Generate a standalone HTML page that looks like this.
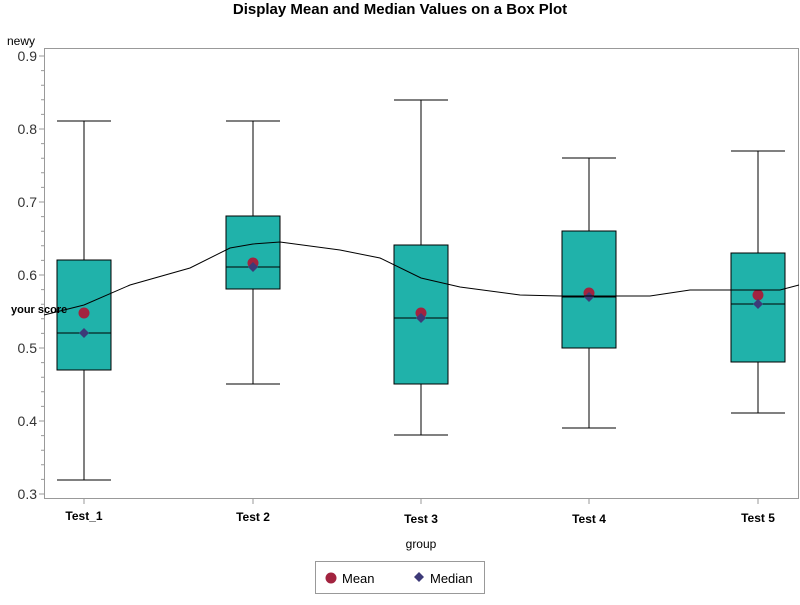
<!DOCTYPE html>
<html><head><meta charset="utf-8"><style>body{margin:0;background:#fff}</style></head><body>
<svg width="800" height="600" xmlns="http://www.w3.org/2000/svg" font-family="Liberation Sans, sans-serif">
<rect width="800" height="600" fill="#fff"/>
<text x="400" y="14" text-anchor="middle" font-size="15" font-weight="bold">Display Mean and Median Values on a Box Plot</text>
<text x="7" y="45" font-size="12">newy</text>
<rect x="44.5" y="48.5" width="754" height="450" fill="none" stroke="#999"/>
<g stroke="#999">
<line x1="39" y1="56" x2="44" y2="56"/><line x1="39" y1="129" x2="44" y2="129"/><line x1="39" y1="202" x2="44" y2="202"/><line x1="39" y1="275" x2="44" y2="275"/><line x1="39" y1="348" x2="44" y2="348"/><line x1="39" y1="421" x2="44" y2="421"/><line x1="39" y1="494" x2="44" y2="494"/>
<path d="M41 70.6H44M41 85.2H44M41 99.8H44M41 114.4H44M41 143.6H44M41 158.2H44M41 172.8H44M41 187.4H44M41 216.6H44M41 231.2H44M41 245.8H44M41 260.4H44M41 289.6H44M41 304.2H44M41 318.8H44M41 333.4H44M41 362.6H44M41 377.2H44M41 391.8H44M41 406.4H44M41 435.6H44M41 450.2H44M41 464.8H44M41 479.4H44"/>
<path d="M84 499v5M253 499v5M421 499v5M589 499v5M758 499v5"/>
</g>
<g font-size="14" fill="#333" text-anchor="end">
<text x="37" y="61">0.9</text><text x="37" y="134">0.8</text><text x="37" y="207">0.7</text><text x="37" y="280">0.6</text><text x="37" y="353">0.5</text><text x="37" y="426">0.4</text><text x="37" y="499">0.3</text>
</g>
<g stroke="#000" stroke-width="1">
<path d="M57 121H111M84 121V260M84 370V480M57 480H111"/><rect x="57" y="260" width="54" height="110" fill="#20B2AA"/><line x1="57" y1="333" x2="111" y2="333"/>
<path d="M226 121H280M253 121V216M253 289V384M226 384H280"/><rect x="226" y="216" width="54" height="73" fill="#20B2AA"/><line x1="226" y1="267" x2="280" y2="267"/>
<path d="M394 100H448M421 100V245M421 384V435M394 435H448"/><rect x="394" y="245" width="54" height="139" fill="#20B2AA"/><line x1="394" y1="318" x2="448" y2="318"/>
<path d="M562 158H616M589 158V231M589 348V428M562 428H616"/><rect x="562" y="231" width="54" height="117" fill="#20B2AA"/><line x1="562" y1="297" x2="616" y2="297"/>
<path d="M731 151H785M758 151V253M758 362V413M731 413H785"/><rect x="731" y="253" width="54" height="109" fill="#20B2AA"/><line x1="731" y1="304" x2="785" y2="304"/>
</g>
<g fill="#A2233F"><circle cx="84" cy="313" r="5.5"/><circle cx="253" cy="263" r="5.5"/><circle cx="421" cy="313" r="5.5"/><circle cx="589" cy="293" r="5.5"/><circle cx="758" cy="295" r="5.5"/></g>
<g fill="#3D3A78"><path d="M84 328l5 5-5 5-5-5z"/><path d="M253 262l5 5-5 5-5-5z"/><path d="M421 313l5 5-5 5-5-5z"/><path d="M589 292l5 5-5 5-5-5z"/><path d="M758 299l5 5-5 5-5-5z"/></g>
<polyline fill="none" stroke="#000" stroke-width="1" points="44,315 84,305 130,285 190,268 230,248 253,244 280,242 340,250 380,258 421,278 460,287 520,295 560,296 650,296 690,290 780,290 799,285"/>
<text x="11" y="313" font-size="11" font-weight="bold">your score</text>
<g font-size="12" font-weight="bold" text-anchor="middle">
<text x="84" y="520">Test_1</text><text x="253" y="521">Test 2</text><text x="421" y="523">Test 3</text><text x="589" y="523">Test 4</text><text x="758" y="522">Test 5</text>
</g>
<text x="421" y="548" font-size="12" text-anchor="middle">group</text>
<rect x="315.5" y="561.5" width="169" height="32" fill="none" stroke="#999"/>
<circle cx="331" cy="578" r="5.5" fill="#A2233F"/><text x="342" y="583" font-size="13">Mean</text>
<path d="M419 572l5 5-5 5-5-5z" fill="#3D3A78"/><text x="430" y="583" font-size="13">Median</text>
</svg>
</body></html>
